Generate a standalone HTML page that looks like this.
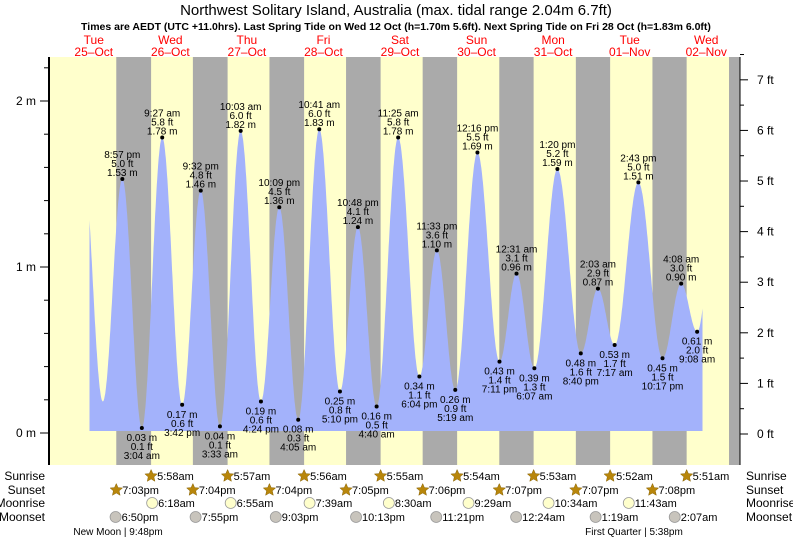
<!DOCTYPE html>
<html><head><meta charset="utf-8">
<style>
html,body{margin:0;padding:0;background:#fff;}
svg{display:block;font-family:"Liberation Sans",sans-serif;}
</style></head>
<body>
<svg id="chart" width="793" height="539" viewBox="0 0 793 539" xmlns="http://www.w3.org/2000/svg">
<text x="396" y="15" font-size="15" text-anchor="middle" fill="#000">Northwest Solitary Island, Australia (max. tidal range 2.04m 6.7ft)</text>
<text x="396" y="30" font-size="10.5" font-weight="bold" text-anchor="middle" fill="#000">Times are AEDT (UTC +11.0hrs). Last Spring Tide on Wed 12 Oct (h=1.70m 5.6ft). Next Spring Tide on Fri 28 Oct (h=1.83m 6.0ft)</text>
<g id="bg"></g>
<g id="tide"></g>
<g id="axes"></g>
<g id="labels"></g>
<g id="rows"></g>
</svg>
<script>
// ---- data ----
const dayNames = ["Tue","Wed","Thu","Fri","Sat","Sun","Mon","Tue","Wed"];
const dayDates = ["25\u2013Oct","26\u2013Oct","27\u2013Oct","28\u2013Oct","29\u2013Oct","30\u2013Oct","31\u2013Oct","01\u2013Nov","02\u2013Nov"];
// tide extremes: day index from 25 Oct, 24h clock, height (m)
const tideDay = [0,1,1,1,1,2,2,2,2,3,3,3,3,4,4,4,4,5,5,5,6,6,6,6,7,7,7,7,8,8];
const tideClock = ["20:57","03:04","09:27","15:42","21:32","03:33","10:03","16:24","22:09","04:05","10:41","17:10","22:48","04:40","11:25","18:04","23:33","05:19","12:16","19:11","00:31","06:07","13:20","20:40","02:03","07:17","14:43","22:17","04:08","09:08"];
const tideM = [1.53,0.03,1.78,0.17,1.46,0.04,1.82,0.19,1.36,0.08,1.83,0.25,1.24,0.16,1.78,0.34,1.10,0.26,1.69,0.43,0.96,0.39,1.59,0.48,0.87,0.53,1.51,0.45,0.90,0.61];
// unlabeled extremes just outside the drawn range
const preDay = [0,0], preClock = ["08:20","14:50"], preM = [1.72,0.19];
const postDay = [8], postClock = ["15:30"], postM = [1.45];
const curveStart = [0,"10:40"], curveEnd = [8,"10:50"];
const sunriseDay = [1,2,3,4,5,6,7,8];
const sunriseClock = ["05:58","05:57","05:56","05:55","05:54","05:53","05:52","05:51"];
const sunsetDay = [0,1,2,3,4,5,6,7,8];
const sunsetClock = ["19:03","19:04","19:04","19:05","19:06","19:07","19:07","19:08","19:08"];
const moonriseDay = [1,2,3,4,5,6,7];
const moonriseClock = ["06:18","06:55","07:39","08:30","09:29","10:34","11:43"];
const moonsetDay = [0,1,2,3,4,6,7,8];
const moonsetClock = ["18:50","19:55","21:03","22:13","23:21","00:24","01:19","02:07"];
const mTicks = [0,1,2];
const ftTicks = [0,1,2,3,4,5,6,7];

// ---- scales ----
const X0 = 55.5, PXH = 3.19;
const Y0 = 433, PXM = 166;
const plotL = 49, plotR = 740, plotT = 57, plotB = 465;
function hrs(d,c){const p=c.split(":");return d*24+ +p[0]+ +p[1]/60;}
function xS(h){return X0+h*PXH;}
function yS(m){return Y0-m*PXM;}
function fmt12(c){let p=c.split(":"),h=+p[0],ap=h>=12?"pm":"am";h=h%12;if(h==0)h=12;return h+":"+p[1]+" "+ap;}
function fmtShort(c){let p=c.split(":"),h=+p[0],ap=h>=12?"pm":"am";h=h%12;if(h==0)h=12;return h+":"+p[1]+ap;}
const NS="http://www.w3.org/2000/svg";
function mk(tag,attrs,parent){const e=document.createElementNS(NS,tag);for(const k in attrs)e.setAttribute(k,attrs[k]);parent.appendChild(e);return e;}

// ---- background day/night ----
const bg=document.getElementById("bg");
let r=mk("rect",{x:plotL,y:plotT,width:plotR-plotL,height:plotB-plotT,fill:"#ffffcc"},bg);


for(let i=0;i<sunsetDay.length;i++){
  const s=xS(hrs(sunsetDay[i],sunsetClock[i]));
  const e=i<sunriseDay.length?xS(hrs(sunriseDay[i],sunriseClock[i])):plotR;
  const n=mk("rect",{x:s,y:plotT,width:Math.min(e,plotR)-s,height:plotB-plotT,fill:"#aaaaaa"},bg);
  
  
}
// day labels
for(let i=0;i<dayNames.length;i++){
  const cx=xS(i*24+12);
  const t1=mk("text",{x:cx,y:44,"font-size":"12","text-anchor":"middle",fill:"#ff0000"},bg);t1.textContent=dayNames[i];
  
  
  const t2=mk("text",{x:cx,y:56,"font-size":"12","text-anchor":"middle",fill:"#ff0000"},bg);t2.textContent=dayDates[i];
  
  
}

// ---- tide curve ----
const ex=[];
for(let i=0;i<preDay.length;i++)ex.push([hrs(preDay[i],preClock[i]),preM[i]]);
for(let i=0;i<tideDay.length;i++)ex.push([hrs(tideDay[i],tideClock[i]),tideM[i]]);
for(let i=0;i<postDay.length;i++)ex.push([hrs(postDay[i],postClock[i]),postM[i]]);
function hAt(h){
  for(let i=0;i<ex.length-1;i++){
    if(h>=ex[i][0]&&h<=ex[i+1][0]){
      const t=(h-ex[i][0])/(ex[i+1][0]-ex[i][0]);
      return ex[i][1]+(ex[i+1][1]-ex[i][1])*(1-Math.cos(Math.PI*t))/2;
    }
  }
  return ex[ex.length-1][1];
}
const hs=hrs(curveStart[0],curveStart[1]), he=hrs(curveEnd[0],curveEnd[1]);
const baseY=431;
let pts=[xS(hs).toFixed(1)+","+baseY];
for(let h=hs;h<=he;h+=0.1)pts.push(xS(h).toFixed(1)+","+yS(hAt(h)).toFixed(1));
pts.push(xS(he).toFixed(1)+","+yS(hAt(he)).toFixed(1));
pts.push(xS(he).toFixed(1)+","+baseY);
const tide=document.getElementById("tide");
const poly=mk("polygon",{points:pts.join(" "),fill:"#a3b2fb"},tide);



// ---- axes ----
const ax=document.getElementById("axes");
let l=mk("line",{x1:plotL,y1:plotT,x2:plotL,y2:plotB,stroke:"#000","stroke-width":"2"},ax);


l=mk("line",{x1:plotR,y1:plotT,x2:plotR,y2:plotB,stroke:"#000","stroke-width":"1"},ax);


for(let v=0;v<=2.2;v+=0.2){
  const y=yS(v);const major=Math.abs(v-Math.round(v))<1e-6;
  const tk=mk("line",{x1:major?40:44,y1:y,x2:plotL,y2:y,stroke:"#000","stroke-width":"1"},ax);
  
  
}
mTicks.forEach(v=>{
  const t=mk("text",{x:36,y:yS(v)+4,"font-size":"12","text-anchor":"end",fill:"#000"},ax);t.textContent=v+" m";
  
  
});
const ftY=v=>Y0+1-v*0.3048*PXM;
for(let v=0;v<=7.5;v+=0.5){
  const y=ftY(v);const major=v%1==0;
  const tk=mk("line",{x1:plotR,y1:y,x2:major?plotR+8:plotR+4,y2:y,stroke:"#000","stroke-width":"1"},ax);
  
  
}
ftTicks.forEach(v=>{
  const t=mk("text",{x:757,y:ftY(v)+4,"font-size":"12",fill:"#000"},ax);t.textContent=v+" ft";
  
  
});

// ---- extreme labels ----
const lb=document.getElementById("labels");
for(let i=0;i<tideDay.length;i++){
  const x=xS(hrs(tideDay[i],tideClock[i])), y=yS(tideM[i]);
  const isHigh=(i==0||tideM[i]>tideM[i-1]);
  const d=mk("circle",{cx:x,cy:y,r:2,fill:"#000"},lb);
  
  
  const mTxt=tideM[i].toFixed(2)+" m", fTxt=(tideM[i]*3.28084).toFixed(1)+" ft", tTxt=fmt12(tideClock[i]);
  const lines=isHigh?[[tTxt,-21],[fTxt,-12],[mTxt,-3]]:[[mTxt,13],[fTxt,22],[tTxt,31]];
  lines.forEach(([s,o])=>{
    const t=mk("text",{x:x,y:y+o,"font-size":"10","text-anchor":"middle",fill:"#000"},lb);t.textContent=s;
    
    
  });
}

// ---- sun / moon rows ----
const rw=document.getElementById("rows");
const rowY={Sunrise:476,Sunset:490,Moonrise:503,Moonset:517};
Object.keys(rowY).forEach(k=>{
  let t=mk("text",{x:45,y:rowY[k]+4,"font-size":"12","text-anchor":"end",fill:"#000"},rw);t.textContent=k;
  
  
  t=mk("text",{x:746,y:rowY[k]+4,"font-size":"12",fill:"#000"},rw);t.textContent=k;
  
  
});
function star(cx,cy){
  let p=[];for(let i=0;i<10;i++){const a=-Math.PI/2+i*Math.PI/5,rr=i%2?3:6.5;p.push((cx+rr*Math.cos(a)).toFixed(1)+","+(cy+rr*Math.sin(a)).toFixed(1));}
  return p.join(" ");
}
function evt(days,clocks,row,kind){
  for(let i=0;i<days.length;i++){
    const x=xS(hrs(days[i],clocks[i])), y=rowY[row];
    if(x>715)continue;
    let ic;
    if(kind=="sun") ic=mk("polygon",{points:star(x,y),fill:"#b8860b",stroke:"#8a6508","stroke-width":"0.5"},rw);
    else ic=mk("circle",{cx:x,cy:y,r:5.5,fill:kind=="mr"?"#ffffcc":"#c8c4bc",stroke:"#999","stroke-width":"0.8"},rw);
    
    
    const t=mk("text",{x:x+6,y:y+4,"font-size":"11",fill:"#000"},rw);t.textContent=fmtShort(clocks[i]);
    
    
  }
}
evt(sunriseDay,sunriseClock,"Sunrise","sun");
evt(sunsetDay,sunsetClock,"Sunset","sun");
evt(moonriseDay,moonriseClock,"Moonrise","mr");
evt(moonsetDay,moonsetClock,"Moonset","ms");
let ph=mk("text",{x:118,y:535,"font-size":"10","text-anchor":"middle",fill:"#000"},rw);ph.textContent="New Moon | 9:48pm";


ph=mk("text",{x:634,y:535,"font-size":"10","text-anchor":"middle",fill:"#000"},rw);ph.textContent="First Quarter | 5:38pm";


</script>
</body></html>
